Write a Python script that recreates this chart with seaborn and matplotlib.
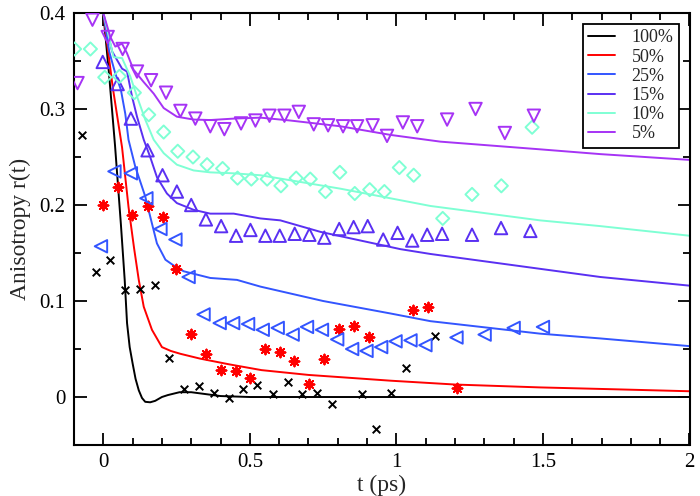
import numpy as np
import pandas as pd
import matplotlib
matplotlib.use("Agg")
import matplotlib.pyplot as plt
import seaborn as sns
from matplotlib.ticker import MultipleLocator, FormatStrFormatter

# ---------------- data ----------------
labels = ["100%", "50%", "25%", "15%", "10%", "5%"]
colors = ["#000000", "#ff0000", "#3355ff", "#5a30f2", "#7fffd4", "#a633f5"]

# model curves
x100 = [0, 0.02, 0.04, 0.06, 0.073, 0.081, 0.09, 0.10, 0.11, 0.121, 0.132, 0.143, 0.16, 0.177,
        0.2, 0.22, 0.26, 0.3, 0.35, 0.4, 0.5, 1.0, 2.0]
y100 = [0.4, 0.335, 0.262, 0.18, 0.122, 0.077, 0.052, 0.035, 0.019, 0.007, -0.001, -0.005, -0.0055,
        -0.004, 0.0, 0.002, 0.005, 0.005, 0.003, 0.001, 0.0, 0.0, 0.0]
x50 = [0, 0.032, 0.064, 0.086, 0.105, 0.121, 0.138, 0.166, 0.2, 0.23, 0.263, 0.33, 0.43, 0.54,
       0.7, 0.98, 1.2, 1.49, 1.75, 2.0]
y50 = [0.4, 0.323, 0.26, 0.198, 0.155, 0.122, 0.094, 0.070, 0.052, 0.048, 0.045, 0.040, 0.034,
       0.028, 0.023, 0.017, 0.013, 0.010, 0.008, 0.006]
x25 = [0, 0.02, 0.04, 0.06, 0.075, 0.086, 0.109, 0.143, 0.16, 0.183, 0.212, 0.24, 0.274, 0.365,
       0.456, 0.536, 0.75, 0.98, 1.116, 1.49, 1.696, 2.0]
y25 = [0.4, 0.36, 0.338, 0.32, 0.295, 0.268, 0.240, 0.209, 0.188, 0.160, 0.143, 0.137, 0.131,
       0.124, 0.122, 0.115, 0.100, 0.087, 0.079, 0.066, 0.061, 0.053]
x15 = [0, 0.03, 0.064, 0.081, 0.098, 0.115, 0.138, 0.16, 0.183, 0.217, 0.251, 0.308, 0.365,
       0.445, 0.536, 0.604, 0.741, 1.014, 1.116, 1.696, 2.0]
y15 = [0.4, 0.36, 0.342, 0.339, 0.313, 0.292, 0.268, 0.250, 0.229, 0.212, 0.202, 0.195, 0.191,
       0.191, 0.186, 0.184, 0.172, 0.154, 0.149, 0.125, 0.116]
x10 = [0, 0.035, 0.064, 0.092, 0.115, 0.143, 0.172, 0.206, 0.251, 0.308, 0.365, 0.445, 0.536,
       0.809, 1.116, 1.49, 1.696, 2.0]
y10 = [0.4, 0.354, 0.353, 0.334, 0.313, 0.289, 0.268, 0.254, 0.242, 0.236, 0.234, 0.233, 0.231,
       0.217, 0.199, 0.184, 0.178, 0.168]
x5 = [0, 0.024, 0.041, 0.064, 0.081, 0.103, 0.138, 0.172, 0.206, 0.251, 0.308, 0.365, 0.445,
      0.536, 0.638, 0.809, 0.98, 1.15, 1.49, 1.696, 2.0]
y5 = [0.4, 0.375, 0.365, 0.368, 0.358, 0.341, 0.328, 0.316, 0.301, 0.292, 0.289, 0.2885, 0.290,
      0.291, 0.288, 0.282, 0.273, 0.266, 0.258, 0.253, 0.247]

# experimental points
mx100 = [-0.074, -0.024, 0.024, 0.075, 0.126, 0.177, 0.225, 0.276, 0.328, 0.378, 0.428, 0.477,
         0.524, 0.578, 0.630, 0.678, 0.729, 0.780, 0.883, 0.932, 0.982, 1.033, 1.133]
my100 = [0.273, 0.130, 0.143, 0.111, 0.112, 0.117, 0.041, 0.008, 0.011, 0.004, -0.001, 0.008,
         0.012, 0.003, 0.016, 0.003, 0.004, -0.007, 0.003, -0.033, 0.004, 0.030, 0.064]
mx50 = [-0.002, 0.049, 0.098, 0.151, 0.202, 0.249, 0.300, 0.350, 0.402, 0.453, 0.502, 0.553,
        0.602, 0.652, 0.703, 0.753, 0.805, 0.854, 0.906, 1.055, 1.107, 1.207]
my50 = [0.200, 0.219, 0.190, 0.199, 0.188, 0.133, 0.066, 0.045, 0.028, 0.027, 0.020, 0.050,
        0.047, 0.037, 0.014, 0.040, 0.071, 0.074, 0.062, 0.091, 0.094, 0.009]
mx25 = [-0.008, 0.038, 0.094, 0.147, 0.195, 0.246, 0.291, 0.342, 0.397, 0.443, 0.494, 0.544,
        0.595, 0.646, 0.695, 0.746, 0.798, 0.849, 0.898, 0.948, 0.997, 1.048, 1.099, 1.205,
        1.301, 1.400, 1.500]
my25 = [0.157, 0.235, 0.233, 0.207, 0.175, 0.164, 0.125, 0.086, 0.077, 0.077, 0.076, 0.070,
        0.072, 0.065, 0.073, 0.070, 0.060, 0.050, 0.048, 0.052, 0.058, 0.059, 0.054, 0.062,
        0.065, 0.072, 0.073]
mx15 = [-0.002, 0.049, 0.094, 0.151, 0.202, 0.251, 0.300, 0.350, 0.402, 0.453, 0.502, 0.553,
        0.602, 0.653, 0.703, 0.754, 0.805, 0.854, 0.902, 0.955, 1.004, 1.054, 1.105, 1.156,
        1.258, 1.357, 1.457]
my15 = [0.349, 0.326, 0.290, 0.257, 0.231, 0.214, 0.200, 0.185, 0.178, 0.168, 0.174, 0.168,
        0.168, 0.170, 0.169, 0.166, 0.175, 0.177, 0.178, 0.164, 0.171, 0.163, 0.169, 0.170,
        0.169, 0.176, 0.173]
mx10 = [-0.098, -0.044, 0.005, 0.055, 0.106, 0.155, 0.206, 0.254, 0.306, 0.354, 0.407, 0.458,
        0.505, 0.559, 0.606, 0.658, 0.706, 0.758, 0.807, 0.858, 0.909, 0.959, 1.010, 1.059,
        1.158, 1.258, 1.358, 1.463]
my10 = [0.3625, 0.3625, 0.333, 0.334, 0.317, 0.294, 0.276, 0.256, 0.250, 0.242, 0.238, 0.228,
        0.227, 0.227, 0.220, 0.228, 0.227, 0.214, 0.234, 0.212, 0.216, 0.214, 0.239, 0.231,
        0.186, 0.211, 0.220, 0.281]
mx5 = [-0.088, -0.037, 0.015, 0.066, 0.115, 0.163, 0.214, 0.263, 0.314, 0.365, 0.413, 0.470,
       0.519, 0.567, 0.618, 0.667, 0.718, 0.767, 0.818, 0.866, 0.919, 0.968, 1.022, 1.071,
       1.173, 1.270, 1.370, 1.469]
my5 = [0.327, 0.393, 0.375, 0.3625, 0.339, 0.330, 0.317, 0.298, 0.290, 0.282, 0.279, 0.285,
       0.288, 0.293, 0.293, 0.297, 0.284, 0.283, 0.282, 0.282, 0.283, 0.272, 0.286, 0.282,
       0.289, 0.300, 0.275, 0.293]

curves = [(x100, y100), (x50, y50), (x25, y25), (x15, y15), (x10, y10), (x5, y5)]
points = [(mx100, my100), (mx50, my50), (mx25, my25), (mx15, my15), (mx10, my10), (mx5, my5)]
markers = ["x", (8, 2, 0), "<", "^", "D", "v"]
msizes = [30, 50, 80, 80, 45, 80]

# ---------------- style ----------------
sns.set_theme(style="ticks")
plt.rcParams["font.family"] = ["Liberation Serif", "DejaVu Serif"]
plt.rcParams["mathtext.fontset"] = "stix"

fig = plt.figure(figsize=(7.0, 4.96), dpi=100)
ax = fig.add_axes([0.1057, 0.1028, 0.8793, 0.871])

for (cx, cy), c, lab in zip(curves, colors, labels):
    df = pd.DataFrame({"t": cx, "r": cy})
    sns.lineplot(data=df, x="t", y="r", ax=ax, color=c, lw=1.4, label=lab,
                 sort=False, estimator=None)

for (px, py), c, m, s in zip(points, colors, markers, msizes):
    df = pd.DataFrame({"t": px, "r": py})
    if m in ("x",) or isinstance(m, tuple):
        sns.scatterplot(data=df, x="t", y="r", ax=ax, marker=m, color=c, s=s,
                        linewidth=1.4, legend=False, zorder=3)
    else:
        sns.scatterplot(data=df, x="t", y="r", ax=ax, marker=m, s=s,
                        facecolor="none", edgecolor=c, linewidth=1.4, legend=False, zorder=3)

ax.set_xlim(-0.1, 2.0)
ax.set_ylim(-0.05, 0.4)
ax.xaxis.set_major_locator(MultipleLocator(0.5))
ax.xaxis.set_minor_locator(MultipleLocator(0.1))
ax.yaxis.set_major_locator(MultipleLocator(0.1))
ax.yaxis.set_minor_locator(MultipleLocator(0.05))
ax.xaxis.set_major_formatter(FormatStrFormatter("%g"))
ax.yaxis.set_major_formatter(FormatStrFormatter("%g"))
ax.tick_params(which="both", direction="in", top=True, right=True, width=1.3,
               color="black", labelsize=15, labelcolor="black")
ax.tick_params(which="major", length=9, pad=6)
ax.tick_params(which="minor", length=5)
for sp in ax.spines.values():
    sp.set_linewidth(1.5)
    sp.set_color("black")

ax.set_xlabel("t (ps)", fontsize=17, labelpad=2)
ax.set_ylabel("Anisotropy r(t)", fontsize=17, labelpad=6)

leg = ax.legend(loc="upper right", bbox_to_anchor=(0.983, 0.9745), fontsize=13,
                frameon=True, fancybox=False, shadow=False, framealpha=1,
                edgecolor="black", handlelength=1.5, handletextpad=0.9,
                labelspacing=0.12, borderpad=0.3, borderaxespad=0)
leg.get_frame().set_linewidth(1.3)

fig.savefig("out.png", dpi=100)
